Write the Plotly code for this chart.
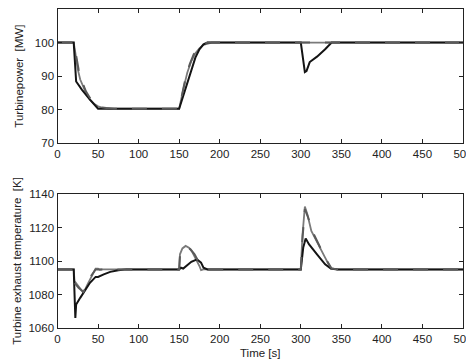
import plotly.graph_objects as go

# ---- Data ----
# Top panel: turbine power [MW]
p_black_t = [0, 20, 23, 30, 40, 50, 150, 155, 160, 165, 170, 175, 180, 185, 300, 305, 307, 311, 320, 330, 338, 500]
p_black_v = [100, 100, 88.4, 86, 83, 80.3, 80.3, 84, 88, 92, 95.5, 98, 99.5, 100, 100, 91.2, 91.5, 94.2, 95.8, 98, 100, 100]

p_gray_t = [0, 20, 22, 25, 28, 32, 36, 40, 45, 50, 55, 65, 150, 155, 160, 165, 170, 175, 180, 190, 500]
p_gray_v = [100, 100, 97, 92, 89, 86.5, 84.5, 83, 81.8, 81, 80.6, 80.3, 80.3, 86, 91, 94.5, 96.8, 98.3, 99.3, 100, 100]

p_dash_t = [0, 20, 22, 26, 30, 35, 40, 45, 50, 55, 60, 70, 150, 154, 158, 163, 168, 173, 178, 185, 195, 500]
p_dash_v = [100, 100, 97.5, 92, 88.5, 85.5, 83.5, 82, 81.2, 80.7, 80.5, 80.3, 80.3, 85, 89.5, 93.5, 96.5, 98.3, 99.4, 100, 100, 100]

# Bottom panel: turbine exhaust temperature [K]
t_black_t = [0, 20, 22, 23, 28, 33, 40, 47, 50, 57, 65, 75, 85, 150, 152, 155, 160, 165, 172, 177, 180, 185, 300, 303, 306, 310, 320, 330, 337, 345, 500]
t_black_v = [1095, 1095, 1066, 1074, 1078, 1082, 1087, 1090.5, 1090.5, 1092, 1093.5, 1094.5, 1095, 1095, 1096, 1095.5, 1097.5, 1099.5, 1101, 1099, 1096, 1095, 1095, 1108, 1113.5, 1110, 1104, 1098, 1095.5, 1095, 1095]

t_gray_t = [0, 20, 21, 26, 32, 37, 42, 47, 50, 52, 55, 150, 151, 154, 158, 162, 166, 170, 175, 177, 180, 300, 302, 305, 308, 313, 320, 330, 337, 345, 500]
t_gray_v = [1095, 1095, 1088, 1085, 1081, 1086, 1091, 1095.5, 1095.5, 1094.8, 1095, 1095, 1104, 1107.5, 1109, 1108, 1105.5, 1102, 1097, 1094.5, 1095, 1095, 1115, 1132.5, 1128, 1118, 1111, 1102, 1095.5, 1095, 1095]

t_dash_t = [0, 20, 21, 26, 32, 37, 42, 47, 52, 60, 150, 151, 155, 159, 164, 169, 174, 178, 182, 300, 302, 305, 309, 315, 322, 331, 338, 346, 500]
t_dash_v = [1095, 1095, 1087, 1084, 1081.5, 1086.5, 1091.5, 1095, 1095, 1095, 1095, 1103, 1107, 1108.5, 1107, 1104, 1099.5, 1096, 1095, 1095, 1113, 1131, 1126, 1117, 1110, 1101, 1095.5, 1095, 1095]

x_ticks = [0, 50, 100, 150, 200, 250, 300, 350, 400, 450, 500]
p_ticks = [70, 80, 90, 100, 110]
t_ticks = [1060, 1080, 1100, 1120, 1140]

BLACK = "#141414"
GRAY = "#7a7a7a"
DGRAY = "#5a5a5a"

fig = go.Figure()

def add(x, y, color, dash, width, xa, ya):
    fig.add_trace(go.Scatter(x=x, y=y, mode="lines", xaxis=xa, yaxis=ya,
                             line=dict(color=color, width=width, dash=dash),
                             showlegend=False, hoverinfo="skip"))

add(p_gray_t, p_gray_v, GRAY, "solid", 1.8, "x", "y")
add(p_black_t, p_black_v, BLACK, "solid", 2.0, "x", "y")
add(p_dash_t, p_dash_v, DGRAY, "longdash", 2.0, "x", "y")

add(t_gray_t, t_gray_v, GRAY, "solid", 1.8, "x2", "y2")
add(t_black_t, t_black_v, BLACK, "solid", 2.0, "x2", "y2")
add(t_dash_t, t_dash_v, DGRAY, "longdash", 2.0, "x2", "y2")

font = dict(family="Liberation Sans, Arial, sans-serif", size=11.5, color="#222")

axis_common = dict(showline=True, linecolor="#222", linewidth=1.3, mirror="ticks",
                   ticks="inside", ticklen=4, tickcolor="#222", showgrid=False,
                   zeroline=False, tickfont=font, automargin=False)

# page body adds an 8px offset, so the figure is drawn 8px smaller
OFF = 8
W, H = 474 - OFF, 362 - OFF
def xd(a, b):
    return [(a - OFF) / W, (b - OFF) / W]
def yd(top, bot):
    return [1 - (bot - OFF) / H, 1 - (top - OFF) / H]

fig.update_layout(
    width=W, height=H,
    margin=dict(l=0, r=0, t=0, b=0),
    paper_bgcolor="white", plot_bgcolor="white",
    font=font,
    xaxis=dict(domain=xd(57.5, 463), range=[0, 500], tickvals=x_ticks, anchor="y", **axis_common),
    yaxis=dict(domain=yd(9, 143.3), range=[70, 110], tickvals=p_ticks, anchor="x",
               title=dict(text="Turbinepower  [MW]", font=font, standoff=8), **axis_common),
    xaxis2=dict(domain=xd(57.5, 463), range=[0, 500], tickvals=x_ticks, anchor="y2",
                title=dict(text="Time [s]", font=font, standoff=4), **axis_common),
    yaxis2=dict(domain=yd(194, 328), range=[1060, 1140], tickvals=t_ticks, anchor="x2",
                title=dict(text="Turbine exhaust temperature  [K]", font=font, standoff=4), **axis_common),
)

fig.write_html("out.html")
